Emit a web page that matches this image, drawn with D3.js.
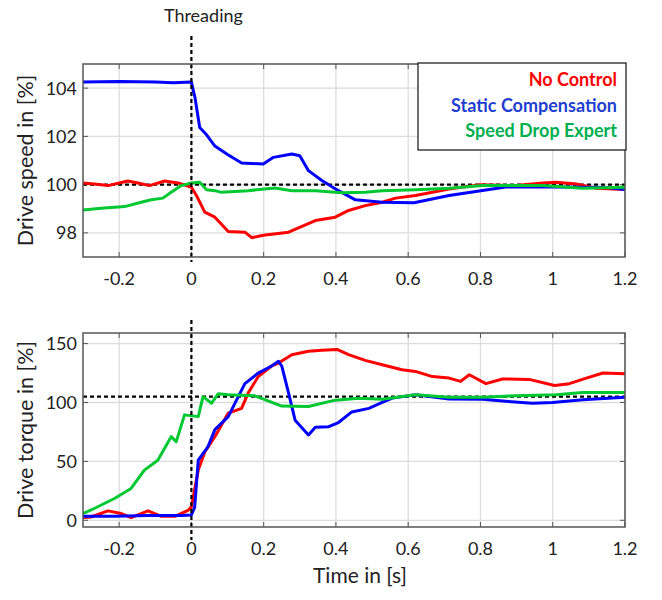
<!DOCTYPE html>
<html><head><meta charset="utf-8">
<script src="https://cdn.jsdelivr.net/npm/d3@7"></script>
<style>body{margin:0;background:#fff}text{font-family:Lato,"Open Sans",sans-serif}</style>
</head><body><svg id="c" width="662" height="600"></svg>
<script>
const seriesNames = ["No Control","Static Compensation","Speed Drop Expert"];
const seriesColors = ["#ff0000","#0000ff","#00c832"];
const legendColors = ["#ff0000","#1f3fd0","#00b050"];
const xTicks = [-0.2,0,0.2,0.4,0.6,0.8,1,1.2];
const speedTicks = [98,100,102,104];
const torqueTicks = [0,50,100,150];

const speedRed = [[-0.3,100.07],[-0.269,100.03],[-0.231,99.96],[-0.176,100.15],[-0.148,100.07],[-0.116,99.96],[-0.074,100.15],[-0.037,100.07],[0,99.89],[0.014,99.55],[0.037,98.86],[0.065,98.65],[0.102,98.06],[0.148,98.03],[0.167,97.8],[0.199,97.9],[0.269,98.03],[0.343,98.51],[0.398,98.65],[0.435,98.93],[0.481,99.13],[0.528,99.27],[0.565,99.44],[0.62,99.55],[0.667,99.68],[0.713,99.82],[0.796,99.99],[0.898,99.96],[0.972,100.07],[1.009,100.1],[1.065,100.03],[1.12,99.85],[1.2,99.8]];
const speedBlue = [[-0.3,104.25],[-0.2,104.27],[-0.1,104.25],[-0.05,104.22],[0,104.25],[0.01,103.6],[0.023,102.37],[0.04,102.1],[0.065,101.6],[0.1,101.25],[0.139,100.9],[0.199,100.85],[0.227,101.13],[0.278,101.27],[0.3,101.2],[0.324,100.58],[0.361,100.17],[0.407,99.75],[0.454,99.37],[0.528,99.27],[0.616,99.25],[0.713,99.55],[0.824,99.8],[0.87,99.9],[1.0,99.9],[1.15,99.88],[1.2,99.8]];
const speedGreen = [[-0.3,98.95],[-0.25,99.02],[-0.185,99.09],[-0.139,99.27],[-0.111,99.37],[-0.079,99.44],[-0.056,99.68],[-0.028,99.96],[0,100.07],[0.023,100.1],[0.042,99.79],[0.065,99.75],[0.083,99.68],[0.157,99.75],[0.231,99.86],[0.278,99.75],[0.343,99.75],[0.417,99.66],[0.481,99.68],[0.528,99.75],[0.62,99.79],[0.713,99.85],[0.806,99.96],[0.898,99.96],[0.972,99.96],[1.083,99.85],[1.2,99.89]];

const torqueRed = [[-0.3,2.3],[-0.278,2.8],[-0.231,8],[-0.194,5.7],[-0.167,2.3],[-0.12,8],[-0.083,3.4],[-0.046,3.4],[-0.009,8.5],[0,11.4],[0.019,42.6],[0.037,58],[0.065,71],[0.102,91],[0.139,95],[0.157,108],[0.185,122],[0.222,131],[0.241,133.5],[0.278,140.6],[0.324,143.5],[0.361,144.3],[0.403,145],[0.435,140.6],[0.481,135.8],[0.528,132],[0.583,127.8],[0.62,126.4],[0.667,122],[0.713,120.7],[0.745,117.9],[0.769,123.6],[0.815,116],[0.861,120],[0.935,119.6],[1.005,114.5],[1.046,116],[1.093,120.7],[1.139,125],[1.2,124.4]];
const torqueBlue = [[-0.3,3.4],[-0.213,3.4],[-0.12,4],[-0.028,4],[0,4.5],[0.009,11],[0.019,51],[0.046,62.5],[0.065,77],[0.102,88],[0.12,99],[0.148,116],[0.185,125],[0.222,131],[0.241,135],[0.25,131],[0.269,108],[0.287,85],[0.324,72.4],[0.343,79],[0.38,79.5],[0.407,83],[0.444,92],[0.491,95],[0.528,100],[0.556,103.7],[0.62,106.5],[0.713,103],[0.806,102.8],[0.87,101],[0.944,99.4],[1.0,100],[1.083,102.3],[1.2,104.5]];
const torqueGreen = [[-0.3,5.7],[-0.269,10],[-0.213,18.5],[-0.167,27],[-0.13,42.6],[-0.093,51],[-0.056,71],[-0.042,66.8],[-0.019,89.5],[0.019,88],[0.032,105],[0.056,99.4],[0.074,107.4],[0.102,106.5],[0.176,105.7],[0.25,97],[0.324,96.6],[0.398,102],[0.463,103.7],[0.528,102.8],[0.62,106.5],[0.713,104.5],[0.806,104.5],[0.898,105.7],[1.009,106.5],[1.083,108.5],[1.2,108.5]];

const svg = d3.select("#c");
const L = 83, R = 625;
const x = d3.scaleLinear().domain([-0.3,1.2]).range([L,R]);

function panel(opts){
  const y = d3.scaleLinear().domain(opts.ydom).range([opts.bottom,opts.top]);
  const g = svg.append("g");
  const cid = "clip"+opts.id;
  svg.append("clipPath").attr("id",cid).append("rect")
    .attr("x",L).attr("y",opts.top).attr("width",R-L).attr("height",opts.bottom-opts.top);
  g.selectAll(".gx").data(xTicks).join("line").attr("x1",d=>x(d)).attr("x2",d=>x(d))
    .attr("y1",opts.top).attr("y2",opts.bottom).attr("stroke","#dcdcdc").attr("stroke-width",1.3);
  g.selectAll(".gy").data(opts.yticks).join("line").attr("y1",d=>y(d)).attr("y2",d=>y(d))
    .attr("x1",L).attr("x2",R).attr("stroke","#dcdcdc").attr("stroke-width",1.3);
  const tl = 5;
  xTicks.forEach(t=>{
    g.append("line").attr("x1",x(t)).attr("x2",x(t)).attr("y1",opts.bottom).attr("y2",opts.bottom-tl).attr("stroke","#555");
    g.append("line").attr("x1",x(t)).attr("x2",x(t)).attr("y1",opts.top).attr("y2",opts.top+tl).attr("stroke","#555");
  });
  opts.yticks.forEach(t=>{
    g.append("line").attr("x1",L).attr("x2",L+tl).attr("y1",y(t)).attr("y2",y(t)).attr("stroke","#555");
    g.append("line").attr("x1",R).attr("x2",R-tl).attr("y1",y(t)).attr("y2",y(t)).attr("stroke","#555");
  });
  g.selectAll(".xl").data(xTicks).join("text").attr("x",d=>x(d)).attr("y",opts.bottom+28)
    .attr("text-anchor","middle").attr("font-size",18).attr("fill","#222").text(d=>String(d));
  g.selectAll(".yl").data(opts.yticks).join("text").attr("x",L-6).attr("y",d=>y(d)+6.5)
    .attr("text-anchor","end").attr("font-size",18).attr("fill","#222").text(d=>d);
  g.append("line").attr("x1",L).attr("x2",R).attr("y1",y(opts.ref)).attr("y2",y(opts.ref))
    .attr("stroke","#000").attr("stroke-width",2.2).attr("stroke-dasharray","4,3");
  const line = d3.line().x(d=>x(d[0])).y(d=>y(d[1]));
  const lg = g.append("g").attr("clip-path",`url(#${cid})`);
  opts.series.forEach((s,i)=>{
    lg.append("path").attr("d",line(s)).attr("fill","none").attr("stroke",seriesColors[i])
      .attr("stroke-width",3).attr("stroke-linejoin","round");
  });
  g.append("line").attr("x1",x(0)).attr("x2",x(0)).attr("y1",opts.vtop).attr("y2",opts.vbot)
    .attr("stroke","#000").attr("stroke-width",2.2).attr("stroke-dasharray","4,3");
  g.append("rect").attr("x",L).attr("y",opts.top).attr("width",R-L).attr("height",opts.bottom-opts.top)
    .attr("fill","none").attr("stroke","#555").attr("stroke-width",1.5);
  g.append("text").attr("transform",`translate(33,${(opts.top+opts.bottom)/2}) rotate(-90)`)
    .attr("text-anchor","middle").attr("font-size",21.5).attr("fill","#222").text(opts.ylabel);
  return y;
}

panel({id:1, ydom:[97,105], top:64, bottom:257, yticks:speedTicks, ref:100, vtop:36, vbot:262,
  series:[speedRed,speedBlue,speedGreen], ylabel:"Drive speed in [%]"});
panel({id:2, ydom:[-5.7,159], top:333, bottom:527, yticks:torqueTicks, ref:105, vtop:320, vbot:540,
  series:[torqueRed,torqueBlue,torqueGreen], ylabel:"Drive torque in [%]"});

svg.append("text").attr("x",x(0)+12).attr("y",22).attr("text-anchor","middle").attr("font-size",18)
  .attr("fill","#222").text("Threading");
svg.append("text").attr("x",360).attr("y",583).attr("text-anchor","middle").attr("font-size",21)
  .attr("fill","#222").text("Time in [s]");

const lgd = svg.append("g");
lgd.append("rect").attr("x",418).attr("y",63).attr("width",208).attr("height",87)
  .attr("fill","#fff").attr("stroke","#222").attr("stroke-width",1.3);
seriesNames.forEach((n,i)=>{
  lgd.append("text").attr("x",617).attr("y",86+i*25.5).attr("text-anchor","end")
    .attr("font-size",18).attr("font-weight","bold").attr("fill",legendColors[i]).text(n);
});
</script></body></html>
